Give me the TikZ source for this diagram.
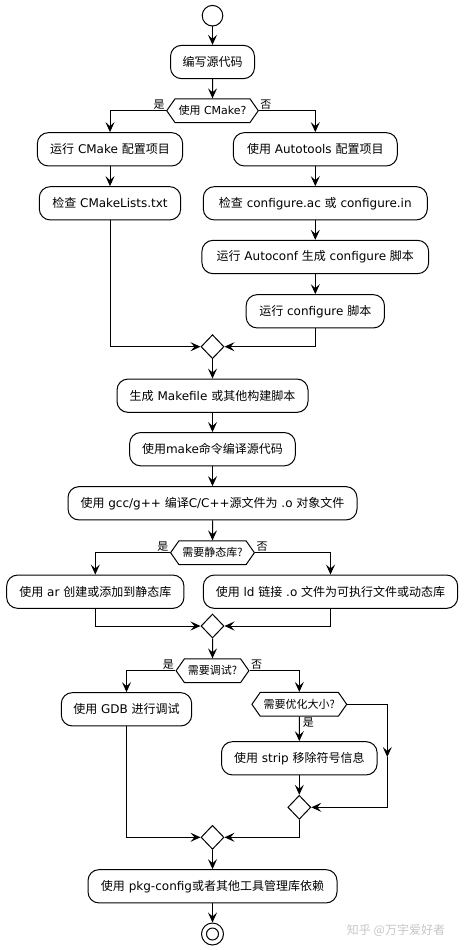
\documentclass[tikz,border=0pt]{standalone}
\usepackage{fontspec}
\setmainfont{DejaVu Sans}
\newfontfamily\cjk{Noto Sans CJK SC}
\usetikzlibrary{arrows.meta,shapes.geometric,shapes.symbols}

\begin{document}
\begin{tikzpicture}[x=1pt, y=-1pt, line width=1pt,
  actbox/.style={draw, rounded corners=11pt, minimum height=33.3pt, inner xsep=12pt, font=\fontsize{12}{14}\selectfont},
  decision/.style={draw, shape=signal, signal to=east and west, signal pointer angle=110, minimum height=23.7pt, inner xsep=3.5pt, inner ysep=0pt, font=\fontsize{11}{13}\selectfont},
  merge/.style={draw, diamond, minimum width=23pt, minimum height=24pt, inner sep=0pt},
  lbl/.style={inner sep=1pt, font=\fontsize{11}{13}\selectfont\cjk},
  flow/.style={-{Stealth[length=10pt,width=9pt,inset=4pt]}}]

\useasboundingbox (0,0) rectangle (463,950);

% Start and stop
\node[draw, circle, minimum size=20.6pt, inner sep=0pt] (start) at (212.5, 15.7) {};
\node[draw, circle, minimum size=22pt, inner sep=0pt] (stop) at (212.5, 934) {};
\draw (stop.center) circle (6pt);

% Main column
\node[actbox, minimum width=83.3pt] (a1) at (212.5, 62) {\cjk 编写源代码};
\node[decision] (d1) at (212.5, 110.7) {{\cjk 使用} CMake?};
\node[merge] (m1) at (212.5, 346.7) {};
\node[actbox, minimum width=191pt] (a2) at (212.5, 395.7) {{\cjk 生成} Makefile {\cjk 或其他构建脚本}};
\node[actbox, minimum width=165.7pt] (a3) at (212.5, 449.2) {{\cjk 使用}make{\cjk 命令编译源代码}};
\node[actbox, minimum width=289pt] (a4) at (212.5, 503.3) {{\cjk 使用} gcc/g++ {\cjk 编译}C/C++{\cjk 源文件为} .o {\cjk 对象文件}};
\node[decision] (d2) at (212.5, 552.7) {\cjk 需要静态库?};
\node[merge] (m2) at (212.5, 626) {};
\node[decision] (d3) at (212.5, 670.7) {\cjk 需要调试?};
\node[merge] (m4) at (212.5, 837.3) {};
\node[actbox, minimum width=249pt] (a5) at (212.5, 886.3) {{\cjk 使用} pkg-config{\cjk 或者其他工具管理库依赖}};

% CMake branch
\node[actbox, minimum width=145.3pt] (b1) at (110, 149.3) {{\cjk 运行} CMake {\cjk 配置项目}};
\node[actbox, minimum width=141.4pt] (b2) at (110, 203.3) {{\cjk 检查} CMakeLists.txt};

% Autotools branch
\node[actbox, minimum width=164pt] (c1) at (315.3, 149.3) {{\cjk 使用} Autotools {\cjk 配置项目}};
\node[actbox, minimum width=224pt] (c2) at (315.3, 203.3) {{\cjk 检查} configure.ac {\cjk 或} configure.in};
\node[actbox, minimum width=226.7pt] (c3) at (315.3, 257) {{\cjk 运行} Autoconf {\cjk 生成} configure {\cjk 脚本}};
\node[actbox, minimum width=138.3pt] (c4) at (315.3, 311.3) {{\cjk 运行} configure {\cjk 脚本}};

% Library branches
\node[actbox, minimum width=177.3pt] (b3) at (95.3, 591.7) {{\cjk 使用} ar {\cjk 创建或添加到静态库}};
\node[actbox, minimum width=254.4pt] (c5) at (330.5, 591.7) {{\cjk 使用} ld {\cjk 链接} .o {\cjk 文件为可执行文件或动态库}};

% Debug branches
\node[actbox, minimum width=129.3pt] (b4) at (126.5, 709.3) {{\cjk 使用} GDB {\cjk 进行调试}};
\node[decision] (d4) at (299.3, 704.3) {\cjk 需要优化大小?};
\node[actbox, minimum width=155.6pt] (c6) at (299.3, 758.3) {{\cjk 使用} strip {\cjk 移除符号信息}};
\node[merge] (m3) at (299.3, 807.3) {};
\coordinate (k1) at (387.3, 757);

% Yes / no labels
\node[lbl, anchor=south east] at (d1.west) {是};
\node[lbl, anchor=south west] at (d1.east) {否};
\node[lbl, anchor=south east] at (d2.west) {是};
\node[lbl, anchor=south west] at (d2.east) {否};
\node[lbl, anchor=south east] at (d3.west) {是};
\node[lbl, anchor=south west] at (d3.east) {否};
\node[lbl, anchor=north west, xshift=2pt] at (d4.south) {是};

% Straight arrows
\foreach \a/\b in {start/a1, a1/d1, b1/b2, c1/c2, c2/c3, c3/c4, m1/a2, a2/a3,
                   a3/a4, a4/d2, m2/d3, d4/c6, c6/m3, m4/a5, a5/stop}
  \draw[flow] (\a) -- (\b);

% Splits
\draw[flow] (d1.west) -| (b1.north);
\draw[flow] (d1.east) -| (c1.north);
\draw[flow] (d2.west) -| (b3.north);
\draw[flow] (d2.east) -| (c5.north);
\draw[flow] (d3.west) -| (b4.north);
\draw[flow] (d3.east) -| (d4.north);
\draw[flow] (d4.east) -| (k1);
\draw[flow] (k1) |- (m3.east);

% Joins
\draw[flow] (b2.south) |- (m1.west);
\draw[flow] (c4.south) |- (m1.east);
\draw[flow] (b3.south) |- (m2.west);
\draw[flow] (c5.south) |- (m2.east);
\draw[flow] (b4.south) |- (m4.west);
\draw[flow] (m3.south) |- (m4.east);

% Watermark
\node[font=\fontsize{12}{14}\selectfont\cjk, text=gray!45] (mark) at (396, 930) {知乎 @万宇爱好者};

\end{tikzpicture}
\end{document}
